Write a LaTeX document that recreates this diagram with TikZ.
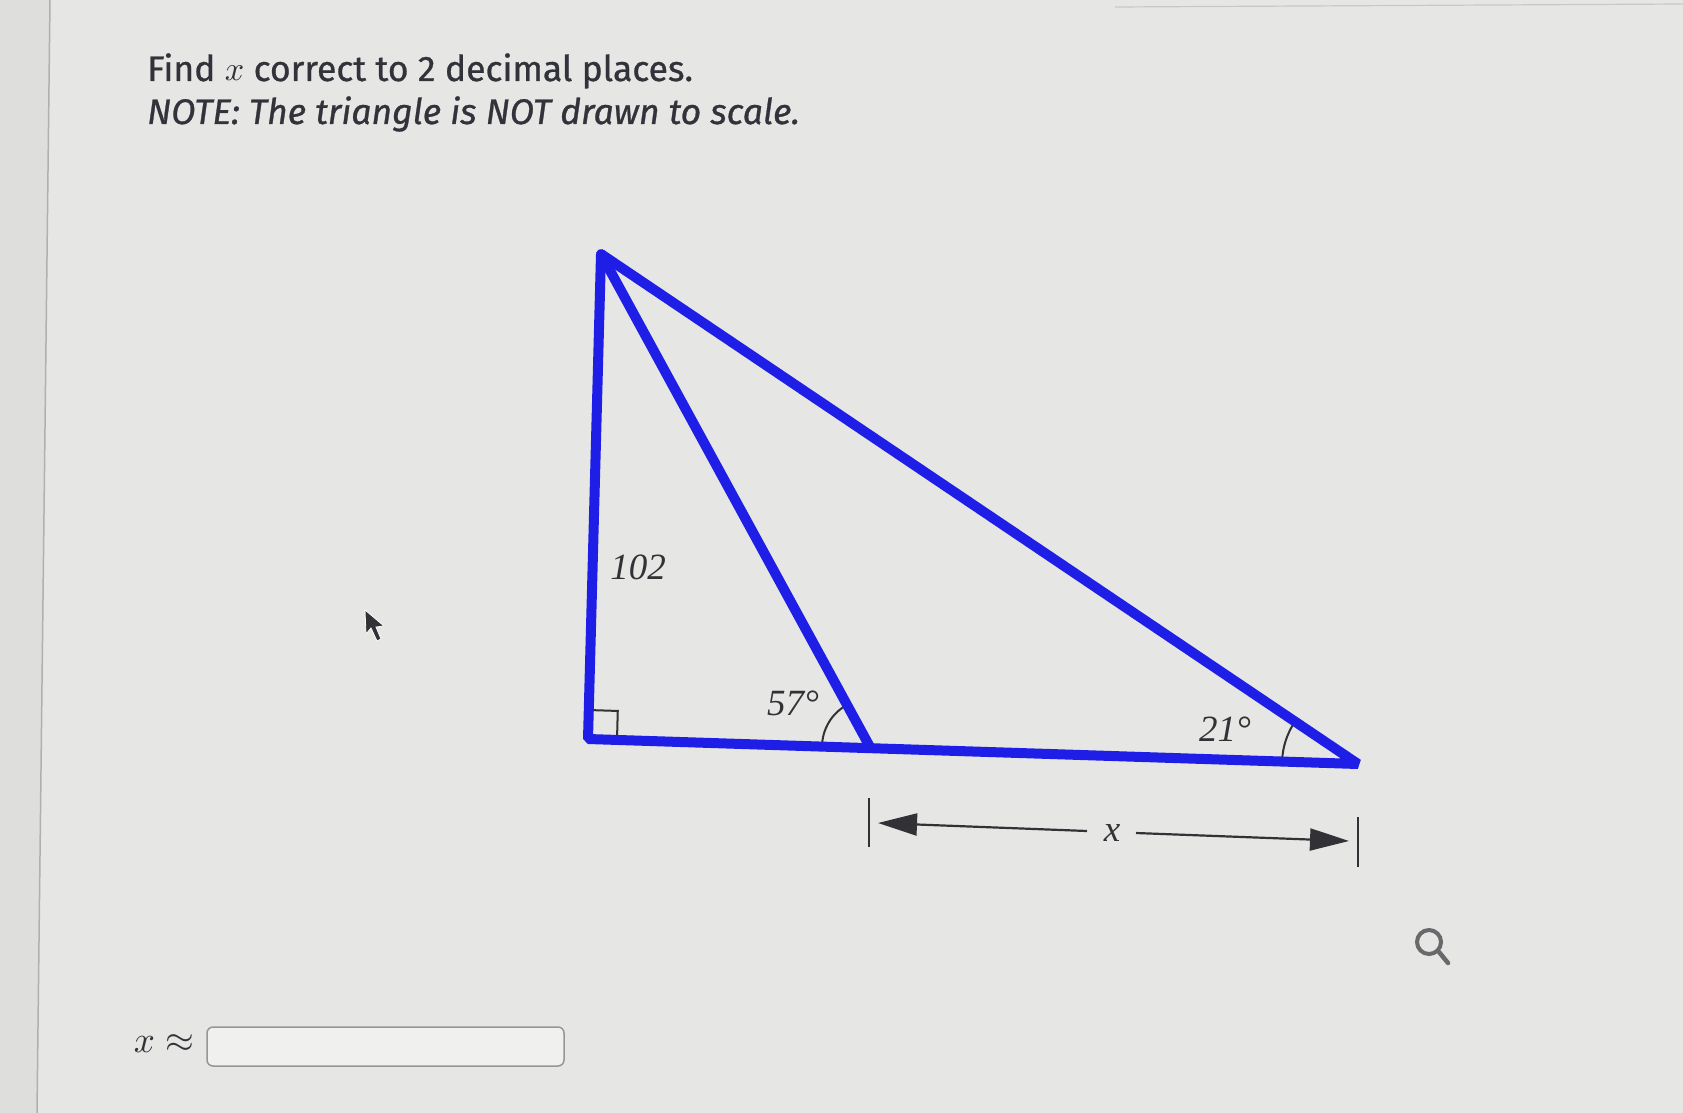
\documentclass[tikz,border=0pt]{standalone}
\usepackage{fontspec}
\usetikzlibrary{arrows.meta,calc,angles}
\newfontfamily\uifont[FakeBold=0.8]{Fira Sans}
\newfontfamily\figfont{Liberation Serif}
\definecolor{bgmain}{RGB}{230,230,228}
\definecolor{bgleft}{RGB}{222,222,220}
\definecolor{edgecol}{RGB}{176,176,174}
\definecolor{txt}{RGB}{50,50,58}
\definecolor{triblue}{RGB}{30,30,230}
\definecolor{ink}{RGB}{50,50,54}
\definecolor{icongrey}{RGB}{105,105,108}
\definecolor{boxgrey}{RGB}{150,150,150}
\tikzset{
  tri/.style={draw=triblue, line width=10pt, line join=bevel, line cap=round},
  thinline/.style={draw=ink, line width=2pt},
  lbl/.style={font=\figfont\itshape\fontsize{37}{40}\selectfont, text=ink, inner sep=0pt},
  dimline/.style={draw=ink, line width=2.2pt},
  dimtip/.style={-{Triangle[length=39pt,width=22pt]}},
  uitext/.style={anchor=base west, inner sep=0pt, text=txt},
}
\begin{document}
\begin{tikzpicture}[x=1pt,y=-1pt]
\useasboundingbox (0,0) rectangle (1683,1113);
\fill[bgmain] (0,0) rectangle (1683,1113);
\fill[bgleft] (0,0) -- (50,0) -- (37,1113) -- (0,1113) -- cycle;
\draw[edgecol, line width=1.5pt] (50,0) -- (37,1113);
\draw[edgecol!70, line width=1.2pt] (1115,7) -- (1683,4);

% question text
\node[uitext] (t1) at (147,81) {\uifont\fontsize{35.5}{40}\selectfont Find \scalebox{3.4}{\normalsize$x$} correct to 2 decimal places.};
\node[uitext] (t2) at (147,124) {\uifont\itshape\fontsize{35.5}{40}\selectfont NOTE: The triangle is NOT drawn to scale.};

% triangle vertices
\coordinate (A) at (601,254);
\coordinate (C) at (588,739);
\coordinate (D) at (870,747);
\coordinate (B) at (1358,764);

% right angle mark
\coordinate (P) at ($(C)!29pt!(A)$);
\coordinate (Q) at ($(C)!29pt!(B)$);
\draw[thinline] (P) -- ($(P)+(Q)-(C)$) -- (Q);

% angle arcs
\pic[thinline, angle radius=48pt] {angle = A--D--C};
\pic[thinline, angle radius=76pt] {angle = A--B--C};

% triangle
\draw[tri] (A) -- (C) -- (B) -- cycle;
\draw[tri] (A) -- (D);

% labels
\node[lbl] (l102) at (638,567) {102};
\node[lbl] (l57) at (793,703) {57°};
\node[lbl] (l21) at (1225,729) {21°};

% dimension
\coordinate (L1) at (869,798); \coordinate (L2) at (869,847);
\coordinate (R1) at (1358,817); \coordinate (R2) at (1358,867);
\draw[dimline] (L1) -- (L2);
\draw[dimline] (R1) -- (R2);
\node[lbl] (xl) at (1112,833) {x};
\coordinate (Ltip) at (878,823); \coordinate (Lend) at (1087,831);
\coordinate (Rstart) at (1136,833); \coordinate (Rtip) at (1349,841);
\draw[dimline, dimtip] (Lend) -- (Ltip);
\draw[dimline, dimtip] (Rstart) -- (Rtip);

% answer
\node[text=txt, inner sep=0pt] (xa) at (164,1044) {\scalebox{3.7}{\normalsize$x\approx$}};
\node[draw=boxgrey, line width=1.5pt, rounded corners=6pt, fill=bgmain!60!white, minimum width=357pt, minimum height=39pt, inner sep=0pt] (ans) at (385.5,1046.5) {};

% search icon
\draw[icongrey, line width=4pt] (1429,942) circle (12pt);
\draw[icongrey, line width=4.5pt, line cap=round] (1439,952) -- (1448,963);

% mouse cursor
\fill[ink, draw=white, line width=0.8pt] (365,610) -- (366,634) -- (371,628) -- (377,641) -- (381,639) -- (376,627) -- (384,626) -- cycle;
\end{tikzpicture}
\end{document}
